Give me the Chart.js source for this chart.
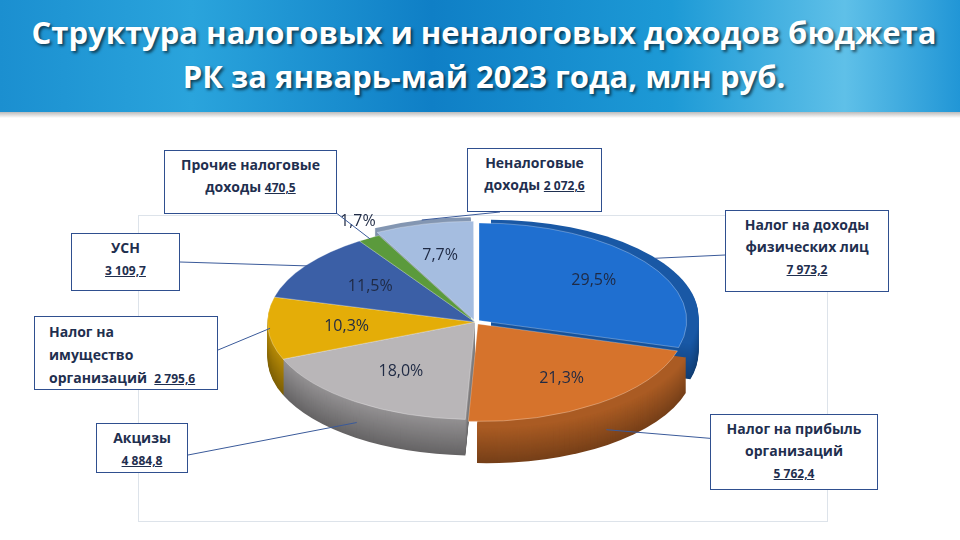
<!DOCTYPE html>
<html>
<head>
<meta charset="utf-8">
<script src="https://cdn.jsdelivr.net/npm/chart.js@4.4.0/dist/chart.umd.min.js"></script>
<style>
body { margin: 0; width: 960px; height: 540px; overflow: hidden; background: #fff; font-family: "Open Sans", "DejaVu Sans", sans-serif; }
#head { position: absolute; left: 0; top: 0; width: 960px; height: 112px;
  background: linear-gradient(90deg, #1b8fd0 0%, #2aa4dc 20%, #0f7fc6 45%, #1d9ad6 70%, #5fc0e8 88%, #2196d6 100%); }
#head:after { content: ""; position: absolute; left: 0; right: 0; bottom: -6px; height: 6px; background: linear-gradient(#bbb, rgba(255,255,255,0)); }
#title { position: absolute; left: 0; width: 960px; top: 10px; text-align: center; color: #fff; font-weight: bold; font-size: 31px; line-height: 44px; text-shadow: 2px 2px 3px rgba(0,0,0,0.6); padding-left: 4px; }
#frame { position: absolute; left: 138px; top: 215px; width: 688px; height: 305px; border: 1px solid #dde3ea; }
.box { position: absolute; background: #fff; border: 1px solid #2f4f8f; font-size: 14px; font-weight: bold; color: #1f2f4f; text-align: center; line-height: 22px; padding: 3px 6px; box-sizing: border-box; }
.box u { font-size: 12px; }
canvas { position: absolute; left: 0; top: 0; }
</style>
</head>
<body>
<div id="head"><div id="title">Структура налоговых и неналоговых доходов бюджета<br>РК за январь-май 2023 года, млн руб.</div></div>
<div id="frame"></div>
<canvas id="c" width="960" height="540"></canvas>
<div class="box" style="left:164px;top:150px;width:173px;height:64px;">Прочие налоговые<br>доходы <u>470,5</u></div>
<div class="box" style="left:467px;top:148px;width:135px;height:64px;">Неналоговые<br>доходы <u>2 072,6</u></div>
<div class="box" style="left:71px;top:233px;width:109px;height:58px;">УСН<br><u>3 109,7</u></div>
<div class="box" style="left:725px;top:210px;width:164px;height:82px;">Налог на доходы<br>физических лиц<br><u>7 973,2</u></div>
<div class="box" style="left:34px;top:316px;width:184px;height:74px;text-align:left;padding-left:14px;line-height:23px;">Налог на<br>имущество<br>организаций &nbsp;<u>2 795,6</u></div>
<div class="box" style="left:96px;top:423px;width:92px;height:50px;">Акцизы<br><u>4 884,8</u></div>
<div class="box" style="left:710px;top:414px;width:168px;height:76px;">Налог на прибыль<br>организаций<br><u>5 762,4</u></div>
<script>
const categories = ["Налог на доходы физических лиц", "Налог на прибыль организаций", "Акцизы",
  "Налог на имущество организаций", "УСН", "Прочие налоговые доходы", "Неналоговые доходы"];
const values = [7973.2, 5762.4, 4884.8, 2795.6, 3109.7, 470.5, 2072.6];
const percentLabels = ["29,5%", "21,3%", "18,0%", "10,3%", "11,5%", "1,7%", "7,7%"];
const colors = ["#1f6fd0", "#d6732c", "#b9b6b8", "#e4ad08", "#3b5fa6", "#5b9a3c", "#a5bde0"];
const offsets = [20, 20, 0, 0, 0, 0, 18];
// where each callout's leader line starts
const calloutPoints = [[725, 255], [730, 440], [188, 455], [218, 350], [180, 262], [335, 212], [500, 212]];

const squash = 0.47;
const depth = 36;

function shade(hex, f) {
    const n = parseInt(hex.slice(1), 16);
    const r = Math.round(((n >> 16) & 255) * f), g = Math.round(((n >> 8) & 255) * f), b = Math.round((n & 255) * f);
    return "rgb(" + r + "," + g + "," + b + ")";
}

function arcPath(ctx, a) {
    const off = a.options.offset || 0;
    const mid = (a.startAngle + a.endAngle) / 2;
    const x = a.x + Math.cos(mid) * off, y = a.y + Math.sin(mid) * off;
    ctx.beginPath();
    ctx.moveTo(x, y);
    ctx.arc(x, y, a.outerRadius, a.startAngle, a.endAngle);
    ctx.closePath();
}

function squashAround(ctx, cx, cy, shift) {
    ctx.translate(0, shift);
    ctx.translate(cx, cy);
    ctx.scale(1, squash);
    ctx.translate(-cx, -cy);
}

const pie3d = {
    id: "pie3d",
    beforeDatasetsDraw(chart) {
        const ctx = chart.ctx;
        const arcs = chart.getDatasetMeta(0).data;
        const cx = arcs[0].x, cy = arcs[0].y;
        // side walls
        for (let d = depth; d > 0; d--) {
            arcs.forEach((a, i) => {
                ctx.save();
                squashAround(ctx, cx, cy, d);
                arcPath(ctx, a);
                ctx.fillStyle = shade(colors[i], 0.55 + 0.25 * (1 - d / depth));
                ctx.fill();
                ctx.restore();
            });
        }
        ctx.save();
        squashAround(ctx, cx, cy, 0);
    },
    afterDatasetsDraw(chart) {
        const ctx = chart.ctx;
        ctx.restore();
        const arcs = chart.getDatasetMeta(0).data;
        const cx = arcs[0].x, cy = arcs[0].y;
        ctx.save();
        ctx.font = "16px 'Open Sans', sans-serif";
        ctx.textAlign = "center";
        ctx.textBaseline = "middle";
        arcs.forEach((a, i) => {
            const mid = (a.startAngle + a.endAngle) / 2;
            const off = a.options.offset || 0;
            const r = i === 5 ? a.outerRadius + 22 : a.outerRadius * 0.62;
            const x = cx + Math.cos(mid) * (r + off);
            const y = cy + Math.sin(mid) * (r + off) * squash + (i === 5 ? -8 : 0);
            ctx.fillStyle = "#1f2a44";
            ctx.fillText(percentLabels[i], x, y);
            // leader line to the slice edge
            const lr = a.outerRadius * 0.99 + off;
            const px = cx + Math.cos(mid) * lr, py = cy + Math.sin(mid) * lr * squash + (Math.sin(mid) > 0.3 ? depth * 0.6 : 0);
            ctx.strokeStyle = "#3a5a9a";
            ctx.lineWidth = 1;
            ctx.beginPath();
            ctx.moveTo(calloutPoints[i][0], calloutPoints[i][1]);
            ctx.lineTo(px, py);
            ctx.stroke();
        });
        ctx.restore();
    }
};

new Chart(document.getElementById("c"), {
    type: "pie",
    plugins: [pie3d],
    data: {
        labels: categories,
        datasets: [{
            data: values,
            backgroundColor: colors,
            borderColor: "rgba(255,255,255,0.4)",
            borderWidth: 1,
            offset: offsets
        }]
    },
    options: {
        responsive: false,
        animation: false,
        layout: { padding: { left: 255, right: 265, top: 104, bottom: 0 } },
        plugins: { legend: { display: false }, tooltip: { enabled: false } }
    }
});
</script>
</body>
</html>
